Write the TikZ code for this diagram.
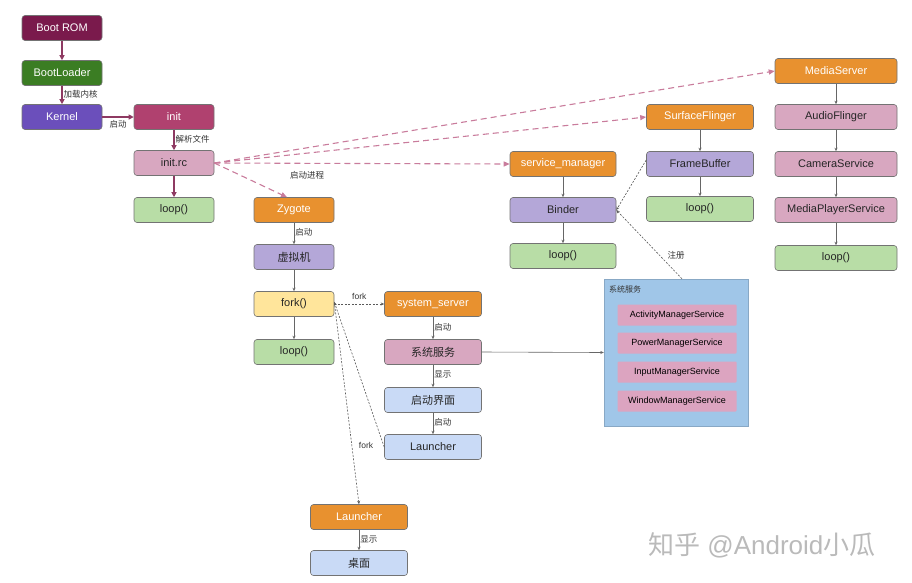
\documentclass[tikz,border=0pt]{standalone}
\usepackage{fontspec}
\setmainfont{Liberation Sans}
\newfontfamily\cjk{Noto Sans CJK SC}
\usetikzlibrary{arrows.meta}
\definecolor{cRom}{HTML}{7A1A4C}
\definecolor{cLoader}{HTML}{3B7D23}
\definecolor{cKernel}{HTML}{6B4FBB}
\definecolor{cInit}{HTML}{B0416F}
\definecolor{cPink}{HTML}{D8A7C0}
\definecolor{cGreen}{HTML}{B8DDA6}
\definecolor{cOrange}{HTML}{E8912F}
\definecolor{cLav}{HTML}{B4A7D8}
\definecolor{cYellow}{HTML}{FFE59B}
\definecolor{cBlue}{HTML}{C9DAF6}
\definecolor{cBig}{HTML}{A0C6E8}
\definecolor{cInner}{HTML}{DCA4C0}
\definecolor{cMar}{HTML}{8E3A62}
\definecolor{cDash}{HTML}{C97C9C}
\begin{document}
\begin{tikzpicture}[x=1pt,y=-1pt,
  box/.style={rounded corners=3pt, minimum width=80pt, minimum height=25pt, inner sep=0pt,
    font=\fontsize{11}{13}\selectfont, draw=black!55, line width=0.6pt},
  dk/.style={box, text=white},
  lt/.style={box, text=black!85},
  wide/.style={minimum width=97pt},
  wider/.style={minimum width=106pt},
  widest/.style={minimum width=122pt},
  cj/.style={font=\cjk\fontsize{11}{13}\selectfont},
  inner/.style={rounded corners=1pt, fill=cInner, minimum width=119pt, minimum height=21pt, inner sep=0pt, font=\fontsize{9}{10}\selectfont},
  lbl/.style={font=\cjk\fontsize{8.5}{9}\selectfont, text=black!80, inner sep=1pt},
  mar/.style={draw=cMar, line width=1.1pt, -{Triangle[length=5pt,width=5pt]}},
  gr/.style={draw=black!60, line width=0.6pt, -{Stealth[length=3.5pt,width=3pt]}},
  pd/.style={draw=cDash, line width=1.1pt, dash pattern=on 6pt off 4pt, -{Triangle[length=6pt,width=5pt]}},
  dt/.style={draw=black!65, line width=0.6pt, dash pattern=on 2pt off 1.5pt},
  dta/.style={dt, -{Stealth[length=3.5pt,width=3pt]}}
]
\useasboundingbox (0,0) rectangle (912,582);
% left column
\node[dk, fill=cRom] (rom) at (62,28) {Boot ROM};
\node[dk, fill=cLoader] (loader) at (62,73) {BootLoader};
\node[dk, fill=cKernel] (kernel) at (62,117) {Kernel};
\node[dk, fill=cInit] (init) at (174,117) {init};
\node[lt, fill=cPink] (initrc) at (174,163) {init.rc};
\node[lt, fill=cGreen] (loop1) at (174,210) {loop()};
% zygote column
\node[dk, fill=cOrange] (zygote) at (294,210) {Zygote};
\node[lt, fill=cLav, cj] (vm) at (294,257) {虚拟机};
\node[lt, fill=cYellow] (fork) at (294,304) {fork()};
\node[lt, fill=cGreen] (loop2) at (294,352) {loop()};
% system server column
\node[dk, fill=cOrange, wide] (ss) at (433,304) {system\_server};
\node[lt, fill=cPink, wide, cj] (sysfw) at (433,352) {系统服务};
\node[lt, fill=cBlue, wide, cj] (boot) at (433,400) {启动界面};
\node[lt, fill=cBlue, wide] (launB) at (433,447) {Launcher};
\node[dk, fill=cOrange, wide] (launO) at (359,517) {Launcher};
\node[lt, fill=cBlue, wide, cj] (desk) at (359,563) {桌面};
% service manager column
\node[dk, fill=cOrange, wider] (sm) at (563,164) {service\_manager};
\node[lt, fill=cLav, wider] (binder) at (563,210) {Binder};
\node[lt, fill=cGreen, wider] (loop3) at (563,256) {loop()};
% surfaceflinger column
\node[dk, fill=cOrange, minimum width=107pt] (sf) at (700,117) {SurfaceFlinger};
\node[lt, fill=cLav, minimum width=107pt] (fb) at (700,164) {FrameBuffer};
\node[lt, fill=cGreen, minimum width=107pt] (loop4) at (700,209) {loop()};
% media column
\node[dk, fill=cOrange, widest] (ms) at (836,71) {MediaServer};
\node[lt, fill=cPink, widest] (af) at (836,117) {AudioFlinger};
\node[lt, fill=cPink, widest] (cs) at (836,164) {CameraService};
\node[lt, fill=cPink, widest] (mps) at (836,210) {MediaPlayerService};
\node[lt, fill=cGreen, widest] (loop5) at (836,258) {loop()};
% system services box
\node[fill=cBig, draw=cBig!85!black, line width=0.4pt, minimum width=144pt, minimum height=147pt, inner sep=0pt] (svc) at (676,352.5) {};
\node[lbl, anchor=west, font=\cjk\fontsize{8}{9}\selectfont] (svct) at (608,289) {系统服务};
\node[inner] (ams) at (677,315) {ActivityManagerService};
\node[inner] (pms) at (677,343) {PowerManagerService};
\node[inner] (ims) at (677,372) {InputManagerService};
\node[inner] (wms) at (677,401) {WindowManagerService};
% watermark
\node[text=black!27, font=\fontsize{26}{28}\selectfont, anchor=west, inner sep=0pt] (wm) at (648,545) {{\cjk 知乎} @Android{\cjk 小瓜}};
% maroon chain
\draw[mar] (rom) -- (loader);
\draw[mar] (loader) -- node[lbl, right, pos=0.45] {加载内核} (kernel);
\draw[mar] (kernel) -- node[lbl, below=2pt] {启动} (init);
\draw[mar] (init) -- node[lbl, right, pos=0.45] {解析文件} (initrc);
\draw[mar] (initrc) -- (loop1);
% pink dashed
\draw[pd] (initrc.east) -- (ms.west);
\draw[pd] (initrc.east) -- (sf.west);
\draw[pd] (initrc.east) -- (sm.west);
\draw[pd] (initrc.east) -- ([xshift=-7pt]zygote.north);
\node[lbl] (lp) at (307,175) {启动进程};
% zygote chain
\draw[gr] (zygote) -- node[lbl, right, pos=0.45] {启动} (vm);
\draw[gr] (vm) -- (fork);
\draw[gr] (fork) -- (loop2);
% fork dotted
\draw[dta] (fork.east) -- node[lbl, above=3pt, font=\fontsize{8.5}{9}\selectfont] {fork} (ss.west);
\draw[dta] (launB.west) -- ([yshift=2pt]fork.east);
\draw[dta] ([yshift=2pt]fork.east) -- (launO.north);
\node[lbl, font=\fontsize{8.5}{9}\selectfont] (fk2) at (366,445) {fork};
% system server chain
\draw[gr] (ss) -- node[lbl, right, pos=0.45] {启动} (sysfw);
\draw[gr] (sysfw) -- node[lbl, right, pos=0.45] {显示} (boot);
\draw[gr] (boot) -- node[lbl, right, pos=0.45] {启动} (launB);
\draw[gr] (launO) -- node[lbl, right, pos=0.45] {显示} (desk);
\draw[gr] (sysfw.east) -- (svc.west);
% binder column
\draw[gr] (sm) -- (binder);
\draw[gr] (binder) -- (loop3);
\draw[gr] (sf) -- (fb);
\draw[gr] (fb) -- (loop4);
\draw[dta] ([yshift=4pt]fb.west) -- (binder.east);
\draw[dta] ([xshift=6pt]svc.north) -- (binder.east);
\node[lbl] (reg) at (676,255) {注册};
% media chain
\draw[gr] (ms) -- (af);
\draw[gr] (af) -- (cs);
\draw[gr] (cs) -- (mps);
\draw[gr] (mps) -- (loop5);
\end{tikzpicture}
\end{document}
